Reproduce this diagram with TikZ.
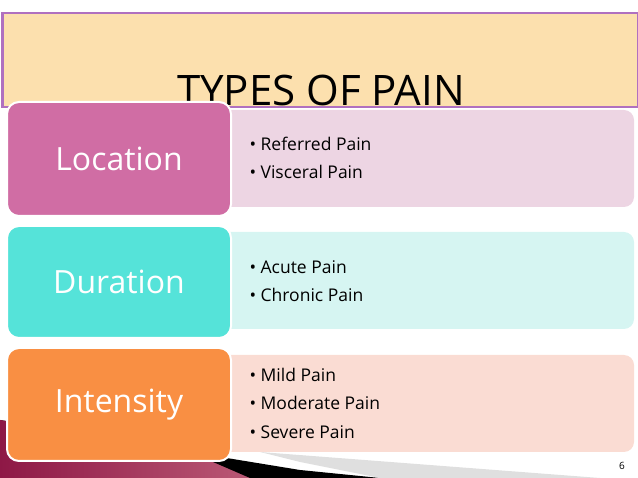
\documentclass[tikz,border=0pt]{standalone}
\usepackage{fontspec}
\setmainfont{Open Sans}
\begin{document}
\begin{tikzpicture}[x=1pt,y=-1pt,
  light/.style={rounded corners=10pt},
  dark/.style={rounded corners=12pt,draw=white,line width=2pt},
  cat/.style={text=white,font=\fontsize{32}{34}\selectfont},
  items/.style={anchor=west,align=left,font=\fontsize{17.5}{28.5}\selectfont}]
\definecolor{tb}{HTML}{FCE0AE}\definecolor{tbd}{HTML}{B070C0}
\definecolor{p1}{HTML}{EDD5E3}\definecolor{d1}{HTML}{D06DA4}
\definecolor{p2}{HTML}{D6F5F2}\definecolor{d2}{HTML}{55E3D9}
\definecolor{p3}{HTML}{FADCD3}\definecolor{d3}{HTML}{F98F43}
\definecolor{mar}{HTML}{8E1846}
\useasboundingbox (0,0) rectangle (638,478);
% bottom decoration
\fill[left color=mar, right color=mar!60!pink] (0,420) -- (200,452) -- (260,478) -- (0,478) -- cycle;
\fill[black] (190,452) -- (300,470) -- (380,478) -- (250,478) -- cycle;
\fill[gray!25] (260,452) -- (600,478) -- (380,478) -- (300,462) -- cycle;
% title
\node[draw=tbd,fill=tb,line width=2.5pt,minimum width=636pt,minimum height=94pt,anchor=north west,inner sep=0] (title) at (1,12) {};
\node[font=\fontsize{42}{44}\selectfont,anchor=base] (tt) at (321,106) {TYPES OF PAIN};
% rows
\fill[p1,light] (200,110) rectangle (634,207);
\node[dark,fill=d1,minimum width=224pt,minimum height=114pt,anchor=north west] (loc) at (6,101) {};
\node[cat] at (loc) {Location};
\node[items] (i1) at (246,158) {•\ Referred Pain\\•\ Visceral Pain};
\fill[p2,light] (200,232) rectangle (634,329);
\node[dark,fill=d2,minimum width=224pt,minimum height=112pt,anchor=north west] (dur) at (6,225) {};
\node[cat] at (dur) {Duration};
\node[items] (i2) at (246,281) {•\ Acute Pain\\•\ Chronic Pain};
\fill[p3,light] (200,355) rectangle (634,452);
\node[dark,fill=d3,minimum width=224pt,minimum height=113pt,anchor=north west] (int) at (6,347) {};
\node[cat] at (int) {Intensity};
\node[items] (i3) at (246,403) {•\ Mild Pain\\•\ Moderate Pain\\•\ Severe Pain};
\node[font=\fontsize{10}{10}\selectfont] (pg) at (622,466) {6};
\end{tikzpicture}
\end{document}
